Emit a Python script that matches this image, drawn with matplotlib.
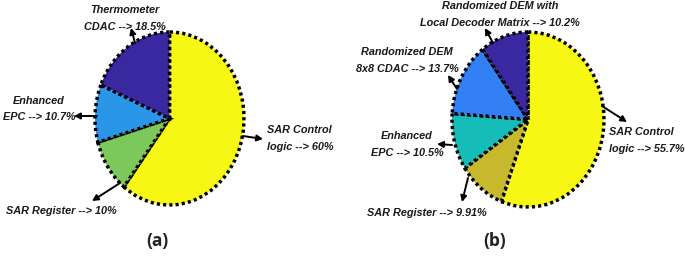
import matplotlib
matplotlib.use("Agg")
import matplotlib.pyplot as plt

# Data
labels_a = ["SAR Control logic", "SAR Register", "Enhanced EPC", "Thermometer CDAC"]
values_a = [60, 10, 10.7, 18.5]
colors_a = ["#F7F716", "#7DC85A", "#2A96E8", "#3A28A0"]

labels_b = ["SAR Control logic", "SAR Register", "Enhanced EPC",
            "Randomized DEM 8x8 CDAC", "Randomized DEM with Local Decoder Matrix"]
values_b = [55.7, 9.91, 10.5, 13.7, 10.2]
colors_b = ["#F7F716", "#C8B82E", "#16BDB8", "#3380F5", "#3A28A0"]

W, H = 685, 257
fig = plt.figure(figsize=(W / 100, H / 100), dpi=100)


def pie_axes(x0, x1, y0, y1, values, colors):
    ax = fig.add_axes([x0 / W, 1 - y1 / H, (x1 - x0) / W, (y1 - y0) / H])
    ax.pie(values, colors=colors, startangle=90, counterclock=False, radius=1,
           wedgeprops=dict(edgecolor="black", linewidth=2.5, linestyle=(0, (0.9, 0.9))))
    ax.set_aspect("auto")
    ax.set_xlim(-1, 1)
    ax.set_ylim(-1, 1)
    ax.axis("off")
    return ax


pie_axes(95, 244, 32, 205, values_a, colors_a)
pie_axes(452, 604, 32, 207, values_b, colors_b)

ov = fig.add_axes([0, 0, 1, 1], facecolor="none")
ov.set_xlim(0, W)
ov.set_ylim(H, 0)
ov.axis("off")
ov.set_zorder(5)

tkw = dict(fontsize=7.8, fontweight="bold", fontstyle="italic", family="Liberation Sans",
           color="#1a1a1a", va="center")


def lines(x, y, texts, ha, dy=16.5):
    for i, t in enumerate(texts):
        ov.text(x, y + i * dy, t, ha=ha, **tkw)


def arrow(x0, y0, x1, y1):
    ov.annotate("", xy=(x1, y1), xytext=(x0, y0),
                arrowprops=dict(arrowstyle="-|>,head_length=0.35,head_width=0.18",
                                color="black", lw=1.4, shrinkA=0, shrinkB=0))


# Panel (a)
lines(125, 10, ["Thermometer", "CDAC --> %.1f%%" % values_a[3]], "center")
lines(39, 101, ["Enhanced", "EPC --> %.1f%%" % values_a[2]], "center")
lines(267, 130, ["SAR Control", "logic --> %d%%" % values_a[0]], "left")
lines(6, 211, ["SAR Register --> %d%%" % values_a[1]], "left")
arrow(135, 43, 131, 28)
arrow(97, 116, 74, 116)
arrow(243, 136, 263, 139)
arrow(120, 183, 92, 201)
ov.text(157, 241, "(a)", ha="center", va="center", fontsize=12.5, fontweight="bold",
        family="Open Sans", color="#222222")

# Panel (b)
lines(500, 6, ["Randomized DEM with", "Local Decoder Matrix --> %.1f%%" % values_b[4]], "center")
lines(407, 52, ["Randomized DEM", "8x8 CDAC --> %.1f%%" % values_b[3]], "center")
lines(407, 136, ["Enhanced", "EPC --> %.1f%%" % values_b[2]], "center")
lines(609, 132, ["SAR Control", "logic --> %.1f%%" % values_b[0]], "left")
lines(367, 213, ["SAR Register --> %.2f%%" % values_b[1]], "left")
arrow(493, 43, 485, 28)
arrow(457, 89, 448, 75)
arrow(452, 145, 437, 144)
arrow(602, 106, 627, 122)
arrow(468, 178, 462, 202)
ov.text(495, 241, "(b)", ha="center", va="center", fontsize=12.5, fontweight="bold",
        family="Open Sans", color="#222222")

fig.savefig("out.png", dpi=100, facecolor="white")
